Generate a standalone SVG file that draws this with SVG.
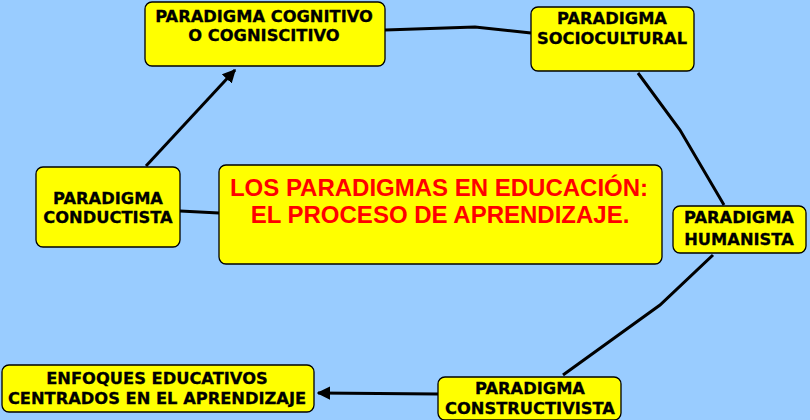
<svg xmlns="http://www.w3.org/2000/svg" width="810" height="420" viewBox="0 0 810 420">
<defs>
<style>
.box{fill:#ffff00;stroke:#000;stroke-width:1.3}
.t{font-family:"DejaVu Sans",Verdana,sans-serif;font-weight:bold;font-size:16.3px;fill:#000;stroke:#000;stroke-width:0.3;text-anchor:middle}
.c{font-family:"Liberation Sans",Arial,sans-serif;font-weight:bold;font-size:24px;fill:#ff0000;text-anchor:middle}
.ln{fill:none;stroke:#000;stroke-width:3}
</style>
<marker id="ah" viewBox="0 0 10 10" refX="9" refY="5" markerWidth="4.5" markerHeight="4.5" orient="auto" markerUnits="strokeWidth">
<path d="M0,0 L10,5 L0,10 z" fill="#000"/>
</marker>
</defs>
<rect width="810" height="420" fill="#99ccff"/>
<g id="connectors">
<polyline class="ln" points="146,166 235,70" marker-end="url(#ah)"/>
<polyline class="ln" points="180,211 219,213"/>
<polyline class="ln" points="385,30 475,27 531,33"/>
<polyline class="ln" points="638,73 680,130 724,205"/>
<polyline class="ln" points="713,255 660,305 563,375"/>
<polyline class="ln" points="438,394 318,393" marker-end="url(#ah)"/>
</g>
<g id="cognitivo">
<rect class="box" x="145" y="2" width="240" height="64" rx="7"/>
<text class="t" x="264" y="22">PARADIGMA COGNITIVO</text>
<text class="t" x="264" y="41">O COGNISCITIVO</text>
</g>
<g id="sociocultural">
<rect class="box" x="531" y="7" width="163" height="64" rx="7"/>
<text class="t" x="612" y="24">PARADIGMA</text>
<text class="t" x="612" y="44">SOCIOCULTURAL</text>
</g>
<g id="conductista">
<rect class="box" x="36" y="167" width="144" height="80" rx="7"/>
<text class="t" x="108" y="204">PARADIGMA</text>
<text class="t" x="108" y="223">CONDUCTISTA</text>
</g>
<g id="central">
<rect class="box" x="219" y="165" width="443" height="99" rx="7"/>
<text class="c" x="439" y="196">LOS PARADIGMAS EN EDUCACIÓN:</text>
<text class="c" x="440" y="223">EL PROCESO DE APRENDIZAJE.</text>
</g>
<g id="humanista">
<rect class="box" x="673" y="206" width="133" height="47" rx="7"/>
<text class="t" x="739" y="223">PARADIGMA</text>
<text class="t" x="739" y="245">HUMANISTA</text>
</g>
<g id="enfoques">
<rect class="box" x="2" y="365" width="312" height="47" rx="7"/>
<text class="t" x="157" y="384">ENFOQUES EDUCATIVOS</text>
<text class="t" x="157" y="404">CENTRADOS EN EL APRENDIZAJE</text>
</g>
<g id="constructivista">
<rect class="box" x="438" y="377" width="183" height="43" rx="7"/>
<text class="t" x="530" y="394">PARADIGMA</text>
<text class="t" x="530" y="414">CONSTRUCTIVISTA</text>
</g>
</svg>
